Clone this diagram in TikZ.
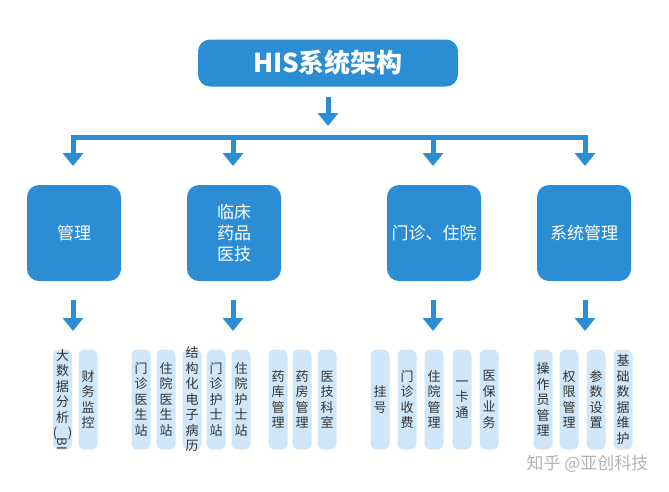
\documentclass[tikz,border=0pt]{standalone}
\usepackage{fontspec}
\setmainfont{Noto Sans CJK SC}
\usetikzlibrary{arrows.meta}
\definecolor{hb}{HTML}{2B8ED4}
\definecolor{lb}{HTML}{CFE7F8}
\tikzset{
 big/.style={fill=hb,rounded corners=12pt,text=white,font=\fontsize{17}{21}\selectfont,align=center,inner sep=0pt},
 leaf/.style={fill=lb,rounded corners=6pt,minimum width=19pt,minimum height=100pt,inner sep=0pt,align=center,font=\fontsize{13}{15.5}\selectfont,text=black!80},
 darr/.style={draw=hb,line width=5pt,-{Triangle[width=20pt,length=13pt]}},
}
\begin{document}
\begin{tikzpicture}[x=1pt,y=-1pt]
\useasboundingbox (0,0) rectangle (669,491);
\node[big,minimum width=260pt,minimum height=47pt,font=\fontsize{26}{30}\selectfont\bfseries] (title) at (328,63) {HIS系统架构};
\coordinate (t1) at (328,97); \coordinate (t2) at (328,126);
\draw[darr] (t1) -- (t2);
\coordinate (bl) at (70.5,137); \coordinate (br) at (587.5,137);
\draw[draw=hb,line width=5pt] (bl) -- (br);
\node[big,minimum width=94pt,minimum height=96pt] (a) at (74,233) {管理};
\node[big,minimum width=94pt,minimum height=96pt] (b) at (234,233) {临床\\药品\\医技};
\node[big,minimum width=94pt,minimum height=96pt] (c) at (434,233) {门诊、住院};
\node[big,minimum width=94pt,minimum height=96pt] (d) at (584,233) {系统管理};
\foreach \n/\x in {a/73,b/233,c/433,d/585}{
 \coordinate (h\n) at (\x,137);
 \coordinate (e\n) at (\x,166);
 \draw[darr] (h\n) -- (e\n);
 \coordinate (s\n) at (\x,300);
 \coordinate (f\n) at (\x,331);
 \draw[darr] (s\n) -- (f\n);
}
\foreach \x/\t [count=\i] in {62.5/大\\数\\据\\分\\析\\(\rotatebox{-90}{BI}\kern1pt),88/财\\务\\监\\控,
 141/门\\诊\\医\\生\\站,166/住\\院\\医\\生\\站,192/结\\构\\化\\电\\子\\病\\历,216/门\\诊\\护\\士\\站,241/住\\院\\护\\士\\站,
 278/药\\库\\管\\理,302/药\\房\\管\\理,327/医\\技\\科\\室,
 380/挂\\号,407/门\\诊\\收\\费,434/住\\院\\管\\理,462/一\\卡\\通,489/医\\保\\业\\务,
 543/操\\作\\员\\管\\理,569/权\\限\\管\\理,596/参\\数\\设\\置,623/基\\础\\数\\据\\维\\护}{
 \node[leaf] (l\i) at (\x,399.5) {};
 \node[align=center,font=\fontsize{13}{15.5}\selectfont,text=black!80,inner sep=0pt] (lt\i) at (\x,399.5) {\t};
}
\node[text=gray!60,font=\fontsize{17}{20}\selectfont,anchor=east] (wm) at (652,464) {知乎 @亚创科技};
\end{tikzpicture}
\end{document}
